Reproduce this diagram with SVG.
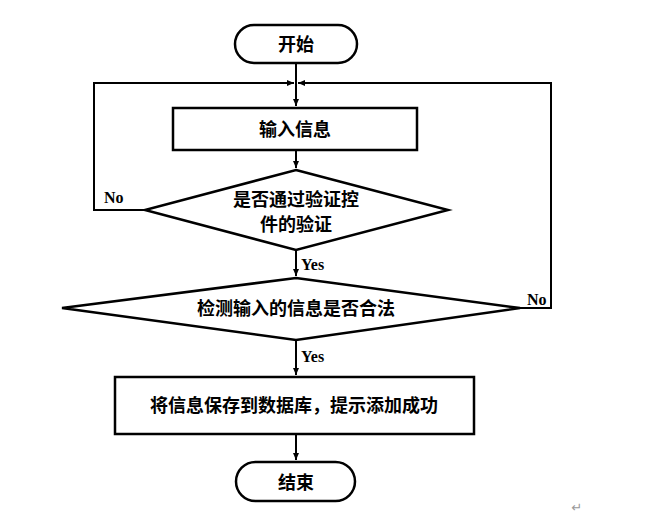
<svg xmlns="http://www.w3.org/2000/svg" width="651" height="518" viewBox="0 0 651 518">
<style>
.s{fill:#fff;stroke:#000;stroke-width:2.5}
.t{font-family:"Noto Sans CJK SC",sans-serif;font-weight:bold;font-size:18px;text-anchor:middle;fill:#000}
.l{font-family:"Liberation Serif",serif;font-weight:bold;font-size:16px;fill:#000}
.c{fill:none;stroke:#000;stroke-width:2}
</style>
<defs><marker id="a" markerWidth="8" markerHeight="8" refX="7" refY="4" orient="auto" markerUnits="userSpaceOnUse"><path d="M0,1 L7,4 L0,7 Z" fill="#000"/></marker></defs>
<rect width="651" height="518" fill="#fff"/>
<g id="connectors">
<line class="c" x1="296" y1="63" x2="296" y2="106" marker-end="url(#a)"/>
<polyline class="c" points="145,210 94,210 94,83 294,83" marker-end="url(#a)"/>
<polyline class="c" points="520,308 551,308 551,83 298,83" marker-end="url(#a)"/>
<line class="c" x1="296" y1="150" x2="296" y2="168" marker-end="url(#a)"/>
<line class="c" x1="296" y1="250" x2="296" y2="276" marker-end="url(#a)"/>
<line class="c" x1="296" y1="340" x2="296" y2="375" marker-end="url(#a)"/>
<line class="c" x1="296" y1="434" x2="296" y2="460" marker-end="url(#a)"/>
<text class="l" x="104" y="203">No</text>
<text class="l" x="527" y="305">No</text>
<text class="l" x="301" y="270">Yes</text>
<text class="l" x="301" y="362">Yes</text>
</g>
<g id="start"><rect class="s" x="235" y="25" width="122" height="38" rx="19"/><text class="t" x="296" y="51">开始</text></g>
<g id="input"><rect class="s" x="173" y="108" width="244" height="42"/><text class="t" x="295" y="136">输入信息</text></g>
<g id="check1"><polygon class="s" points="296,170 448,210 296,250 145,210"/><text class="t" x="296" y="206">是否通过验证控</text><text class="t" x="296" y="231">件的验证</text></g>
<g id="check2"><polygon class="s" points="296,278 520,308 296,340 62,308"/><text class="t" x="296" y="315">检测输入的信息是否合法</text></g>
<g id="save"><rect class="s" x="115" y="377" width="359" height="57"/><text class="t" x="294" y="412">将信息保存到数据库，提示添加成功</text></g>
<g id="end"><rect class="s" x="236" y="462" width="119" height="39" rx="19.5"/><text class="t" x="296" y="489">结束</text></g>
<text x="577" y="512" font-family="DejaVu Sans,sans-serif" font-size="13" fill="#999" text-anchor="middle">↵</text>
</svg>
